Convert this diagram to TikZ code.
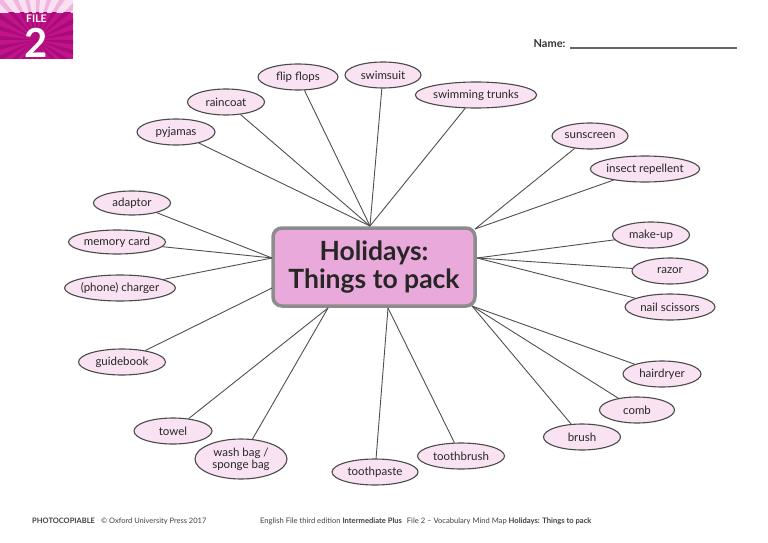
\documentclass[tikz,border=0pt]{standalone}
\usepackage{fontspec}
\setmainfont{Lato}
\usetikzlibrary{shapes.geometric}
\definecolor{bubble}{HTML}{F9E3F2}
\definecolor{bubbleline}{HTML}{4A4A4A}
\definecolor{hubfill}{HTML}{E9A9DA}
\definecolor{hubline}{HTML}{8C8C8C}
\definecolor{magenta2}{HTML}{C2138C}
\definecolor{rayc}{HTML}{A80C78}
\definecolor{raylight}{HTML}{F0B5DD}
\definecolor{linkc}{HTML}{4F4F4F}
\tikzset{
  item/.style={ellipse, draw=bubbleline, line width=1.1pt, fill=bubble, inner sep=0pt,
    minimum height=26pt, font=\fontsize{11.5}{13}\selectfont, text=black!85, align=center},
  link/.style={draw=linkc, line width=0.9pt},
  hub/.style={rectangle, rounded corners=9pt, draw=hubline, line width=3.5pt, fill=hubfill,
    minimum width=202pt, minimum height=78pt, align=center,
    font=\fontsize{26.5}{28.5}\selectfont\bfseries, text=black!85}
}
\begin{document}
\begin{tikzpicture}[x=1pt,y=-1pt]
\useasboundingbox (0,0) rectangle (768,543);
% FILE badge
\begin{scope}
\clip (0,0) rectangle (73,59);
\fill[raylight!40] (0,0) rectangle (73,13);
\foreach \a in {0,15,...,345} {
  \fill[raylight] (36,40) -- ++(\a:120) -- ++(\a+90:12) -- cycle;
}
\fill[magenta2] (0,13) rectangle (73,59);
\begin{scope}
\clip (0,13) rectangle (73,59);
\foreach \a in {0,15,...,345} {
  \fill[rayc] (36,40) -- ++(\a:120) -- ++(\a+90:14) -- cycle;
}
\end{scope}
\end{scope}
\node[text=white, font=\fontsize{10.5}{10}\selectfont\bfseries, inner sep=0pt] (filelbl) at (36.5,19) {FILE};
\node[text=white, font=\fontsize{40}{40}\selectfont\bfseries, inner sep=0pt] (filenum) at (36.5,43) {2};
% Name line
\node[anchor=east, font=\fontsize{11}{12}\selectfont\bfseries, text=black!80] (namelbl) at (569,44) {Name:};
\coordinate (nameA) at (570,48);
\coordinate (nameB) at (737,48);
\draw[line width=1.3pt, black!60] (nameA) -- (nameB);
% hub
\node[hub] (hub) at (374,267) {Holidays:\\Things to pack};
\coordinate (hT) at (370,226);
\coordinate (hTR) at (475,229);
\coordinate (hR) at (477,258);
\coordinate (hBR) at (472,306);
\coordinate (hBM) at (388,308);
\coordinate (hBL) at (328,308);
\coordinate (hL) at (272,258);
\coordinate (hLL) at (272,288);
% items
\node[item, minimum width=80pt] (flip) at (298,77) {flip flops};
\node[item, minimum width=76pt] (swimsuit) at (383,75) {swimsuit};
\node[item, minimum width=110pt] (trunks) at (476,95) {swimming trunks};
\node[item, minimum width=77pt] (raincoat) at (226,102) {raincoat};
\node[item, minimum width=78pt] (pyjamas) at (176,132) {pyjamas};
\node[item, minimum width=76pt] (sunscreen) at (590,136) {sunscreen};
\node[item, minimum width=104pt] (insect) at (645,169) {insect repellent};
\node[item, minimum width=77pt, minimum height=24pt] (adaptor) at (132,203) {adaptor};
\node[item, minimum width=97pt, minimum height=24pt] (memory) at (117,242) {memory card};
\node[item, minimum width=108pt] (charger) at (120,288) {(phone) charger};
\node[item, minimum width=77pt] (makeup) at (651,235) {make-up};
\node[item, minimum width=76pt] (razor) at (670,271) {razor};
\node[item, minimum width=90pt] (nail) at (670,307) {nail scissors};
\node[item, minimum width=87pt] (guide) at (122,362) {guidebook};
\node[item, minimum width=78pt] (hair) at (662,374) {hairdryer};
\node[item, minimum width=75pt] (comb) at (637,410) {comb};
\node[item, minimum width=78pt] (towel) at (173,431) {towel};
\node[item, minimum width=77pt] (brush) at (582,437) {brush};
\node[item, minimum width=92pt, minimum height=40pt, font=\fontsize{11.5}{12}\selectfont] (wash) at (241,459) {wash bag /\\sponge bag};
\node[item, minimum width=87pt] (toothbrush) at (461,456) {toothbrush};
\node[item, minimum width=86pt] (toothpaste) at (375,472) {toothpaste};
% links
\foreach \n in {pyjamas,raincoat,flip,swimsuit,trunks} \draw[link] (hT) -- (\n);
\foreach \n in {sunscreen,insect} \draw[link] (hTR) -- (\n);
\foreach \n in {makeup,razor,nail} \draw[link] (hR) -- (\n);
\foreach \n in {hair,comb,brush} \draw[link] (hBR) -- (\n);
\foreach \n in {toothbrush,toothpaste} \draw[link] (hBM) -- (\n);
\foreach \n in {towel,wash} \draw[link] (hBL) -- (\n);
\foreach \n in {adaptor,memory,charger} \draw[link] (hL) -- (\n);
\draw[link] (hLL) -- (guide);
% footer
\node[anchor=west, font=\fontsize{7.5}{8}\selectfont, text=black!75, inner sep=0pt] (foot1) at (32,521)
  {\textbf{PHOTOCOPIABLE}\hspace{6pt}© Oxford University Press 2017};
\node[anchor=west, font=\fontsize{7.6}{8}\selectfont, text=black!75, inner sep=0pt] (foot2) at (260,521)
  {English File third edition \textbf{Intermediate Plus}\hspace{3pt} File 2 – Vocabulary Mind Map \textbf{Holidays: Things to pack}};
\end{tikzpicture}
\end{document}
